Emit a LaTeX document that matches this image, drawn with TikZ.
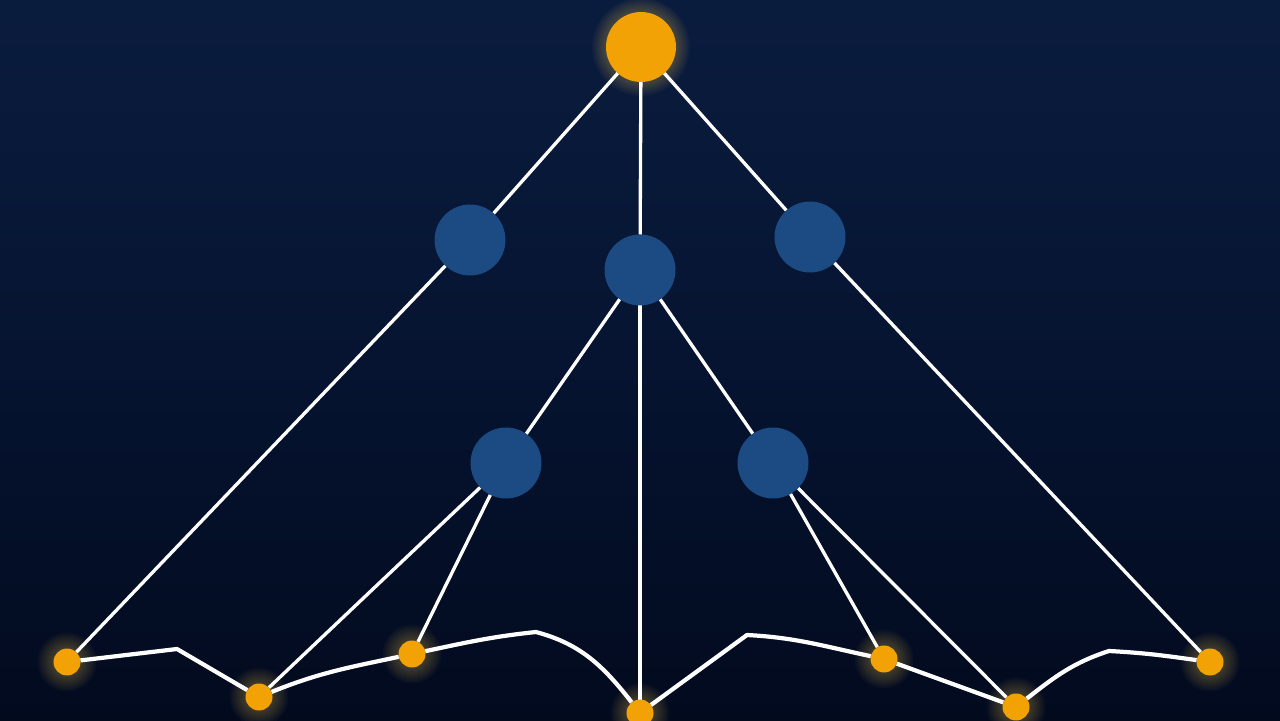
\documentclass[tikz,border=0pt]{standalone}
\usetikzlibrary{backgrounds}
\definecolor{bgtop}{HTML}{0A1C3E}
\definecolor{bgmid}{HTML}{061431}
\definecolor{bgbot}{HTML}{020A1E}
\definecolor{gold}{HTML}{F2A205}
\definecolor{glowc}{HTML}{F5C85A}
\definecolor{navyblue}{HTML}{1C4A82}
\pgfdeclarelayer{bglayer}
\pgfdeclarelayer{edgelayer}
\pgfsetlayers{bglayer,edgelayer,main}
\tikzset{
  rootnode/.style={circle, fill=gold, minimum size=1.40cm, inner sep=0pt, outer sep=0pt},
  midnode/.style={circle, fill=navyblue, minimum size=1.42cm, inner sep=0pt, outer sep=0pt},
  leafnode/.style={circle, fill=gold, minimum size=0.54cm, inner sep=0pt, outer sep=0pt},
  treeedge/.style={draw=white, line width=1.9pt},
  baseedge/.style={draw=white, line width=2.4pt, line join=round},
}
\begin{document}
\begin{tikzpicture}[x=0.02cm, y=0.02cm]
\useasboundingbox (0,0) rectangle (1280,720);
\begin{pgfonlayer}{bglayer}
  \shade[top color=bgtop, bottom color=bgbot, middle color=bgmid] (0,0) rectangle (1280,720);
\end{pgfonlayer}

% nodes
\node[rootnode] (top) at (641,673) {};
\node[midnode] (L) at (470,480) {};
\node[midnode] (C) at (640,450) {};
\node[midnode] (R) at (810,483) {};
\node[midnode] (LL) at (506,257) {};
\node[midnode] (RR) at (773,257) {};
\node[leafnode] (a) at (67,58) {};
\node[leafnode] (b) at (259,23) {};
\node[leafnode] (c) at (412,66) {};
\node[leafnode] (d) at (640,7) {};
\node[leafnode] (e) at (884,61) {};
\node[leafnode] (f) at (1016,13) {};
\node[leafnode] (g) at (1210,58) {};
\coordinate (k1) at (177,71);
\coordinate (k2) at (536,88);
\coordinate (k3) at (747,85);
\coordinate (k4) at (1109,69);

% glows
\begin{pgfonlayer}{bglayer}
  \foreach \n in {a,b,c,d,e,f,g}{
    \foreach \i in {1,...,8}{
      \fill[glowc, opacity=0.035] (\n.center) circle ({0.27cm+\i*0.04cm});
    }
  }
  \foreach \i in {1,...,8}{
    \fill[glowc, opacity=0.035] (top.center) circle ({0.70cm+\i*0.035cm});
  }
\end{pgfonlayer}

% edges
\begin{pgfonlayer}{edgelayer}
  \draw[treeedge] (top) -- (L);
  \draw[treeedge] (L) -- (a);
  \draw[treeedge] (top) -- (C);
  \draw[treeedge] (top) -- (R);
  \draw[treeedge] (R) -- (g);
  \draw[treeedge] (C) -- (LL);
  \draw[treeedge] (C) -- (RR);
  \draw[treeedge] (C) -- (d);
  \draw[treeedge] (LL) -- (b);
  \draw[treeedge] (LL) -- (c);
  \draw[treeedge] (RR) -- (e);
  \draw[treeedge] (RR) -- (f);
  \draw[baseedge] (a) -- (k1) -- (b) to[out=22,in=192] (c) to[out=12,in=186] (k2)
    to[out=-15,in=128] (d) -- (k3) to[out=-3,in=168] (e) -- (f)
    to[out=38,in=198] (k4) to[out=-3,in=172] (g);
\end{pgfonlayer}
\end{tikzpicture}
\end{document}
